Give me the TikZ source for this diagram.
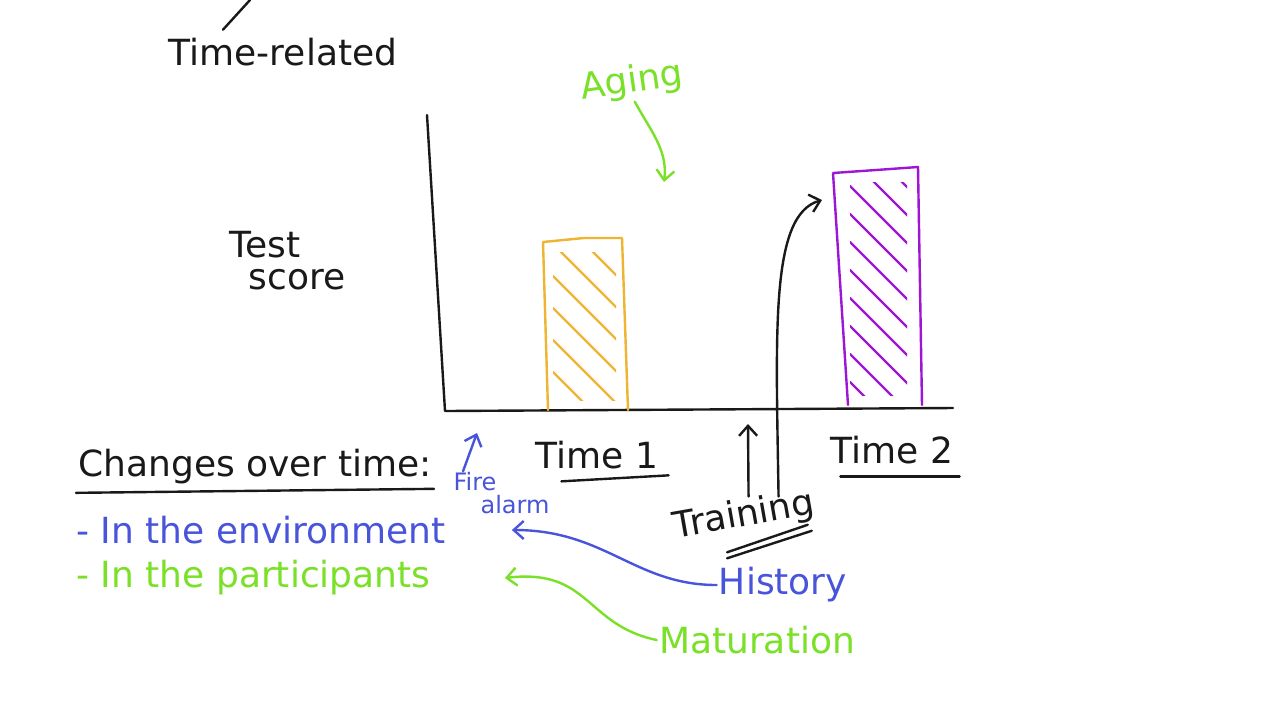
\documentclass[tikz,border=0pt]{standalone}
\usepackage{fontspec}
\setmainfont{DejaVu Sans}
\usetikzlibrary{positioning, arrows, arrows.meta}

\definecolor{penBlack}{RGB}{25,25,25}
\definecolor{penBlue}{RGB}{72,84,218}
\definecolor{penGreen}{RGB}{122,224,40}
\definecolor{penOrange}{RGB}{238,180,50}
\definecolor{penPurple}{RGB}{158,22,212}

\begin{document}
\begin{tikzpicture}[x=0.5pt, y=-0.5pt, >={Straight Barb[length=5pt, width=9pt]},
	pen/.style={line width=1.2pt, line cap=round, line join=round},
	word/.style={font=\fontsize{18}{20}\selectfont, inner sep=1pt, text=penBlack},
	note/.style={font=\fontsize{12}{13}\selectfont, inner sep=0.5pt}]
	\useasboundingbox[fill=white] (0,0) rectangle (1280,720);

	% labels
	\node[word] (related) at (283,52) {Time-related};
	\node[word] (test) at (265,245) {Test};
	\node[word] (score) at (297,280) {score};
	\node[word, text=penGreen, rotate=8] (aging) at (632,82) {Aging};
	\node[word] (time1) at (597,455) {Time 1};
	\node[word] (time2) at (892,450) {Time 2};
	\node[note, text=penBlue] (fire) at (475,482) {Fire};
	\node[note, text=penBlue] (alarm) at (515,505) {alarm};
	\node[word, anchor=west] (changes) at (76,467) {Changes over time:};
	\node[word, anchor=west, text=penBlue] (env) at (74,530) {- In the environment};
	\node[word, anchor=west, text=penGreen] (part) at (74,578) {- In the participants};
	\node[word, rotate=10] (training) at (744,516) {Training};
	\node[word, text=penBlue] (history) at (783,585) {History};
	\node[word, text=penGreen] (maturation) at (757,640) {Maturation};

	% underlines
	\coordinate (ticktop) at (250,0);
	\draw[pen, penBlack] ([xshift=-30pt,yshift=3pt]related.north) -- (ticktop);
	\draw[pen, penBlack] ([yshift=-3pt]changes.south west) -- ([yshift=-1pt]changes.south east);
	\draw[pen, penBlack] ([xshift=14pt,yshift=-5pt]time1.south west) -- ([xshift=4pt,yshift=-2pt]time1.south east);
	\draw[pen, penBlack] ([xshift=6pt,yshift=-5pt]time2.south west) -- ([xshift=2pt,yshift=-5pt]time2.south east);
	\draw[pen, penBlack] ([xshift=26pt,yshift=-2pt]training.south west) -- ([xshift=-6pt,yshift=-1pt]training.south east);
	\draw[pen, penBlack] ([xshift=26pt,yshift=-5pt]training.south west) -- ([xshift=-4pt,yshift=-4pt]training.south east);

	% axes
	\coordinate (ytop) at (427,115);
	\coordinate (origin) at (445,411);
	\coordinate (xend) at (953,408);
	\draw[pen, penBlack] (ytop) -- (origin) -- (xend);

	% Time 1 bar
	\draw[pen, penOrange] (548,410) -- (543,242) -- (584,238) -- (622,238) -- (628,410);
	\begin{scope}
		\clip (553,252) rectangle (616,400);
		\foreach \s in {212,244,...,400}
			\draw[pen, penOrange] (553,\s) -- ++(90,90);
	\end{scope}

	% Time 2 bar
	\draw[pen, penPurple] (848,405) -- (833,173) -- (876,170) -- (918,167) -- (922,405);
	\begin{scope}
		\clip (850,182) rectangle (907,395);
		\foreach \s in {130,158,...,390}
			\draw[pen, penPurple] (850,\s) -- ++(80,80);
	\end{scope}

	% arrows
	\coordinate (agetip) at (664,182);
	\draw[pen, penGreen, ->] (aging.south) .. controls (650,130) and (668,150) .. (agetip);

	\coordinate (firetip) at (477,433);
	\draw[pen, penBlue, ->] ([xshift=-6pt]fire.north) -- (firetip);

	\coordinate (axishit) at (748,424);
	\draw[pen, penBlack, ->] ([xshift=4pt]training.north) -- (axishit);

	\coordinate (bartop) at (822,200);
	\draw[pen, penBlack, ->] ([xshift=19pt]training.north) .. controls (776,330) and (770,215) .. (bartop);

	\draw[pen, penBlue, ->] (history.west) .. controls (635,585) and (605,530) .. ([xshift=32pt]env.east);
	\draw[pen, penGreen, ->] (maturation.west) .. controls (585,625) and (590,568) .. ([xshift=36pt]part.east);
\end{tikzpicture}
\end{document}
